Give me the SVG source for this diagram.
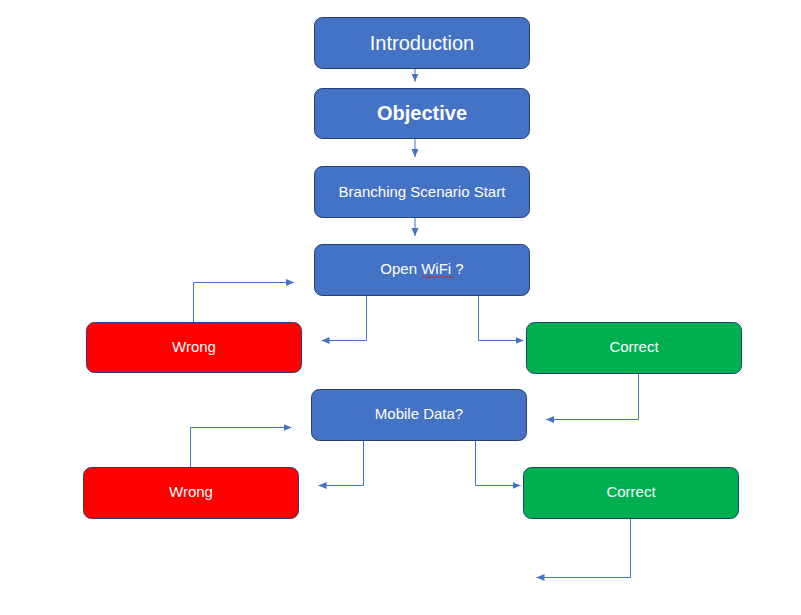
<svg xmlns="http://www.w3.org/2000/svg" width="801" height="615" viewBox="0 0 801 615">
<style>
.box{stroke:#243F70;stroke-width:1}
.blue{fill:#4472C4}
.red{fill:#FF0000}
.green{fill:#00B050}
.lbl{font-family:"Liberation Sans",Arial,sans-serif;fill:#fff;text-anchor:middle;font-size:15px}
.big{font-size:20px}
.conn{fill:none;stroke:#4472C4;stroke-width:1}
</style>
<defs>
<marker id="arr" markerUnits="userSpaceOnUse" markerWidth="9" markerHeight="8" refX="8" refY="3.5" orient="auto">
<path d="M0,0 L8,3.5 L0,7 z" fill="#4472C4"/>
</marker>
</defs>
<rect width="801" height="615" fill="#fff"/>
<g id="connectors">
<path class="conn" marker-end="url(#arr)" d="M415,68.5 V81.5"/>
<path class="conn" marker-end="url(#arr)" d="M415,138.5 V157"/>
<path class="conn" marker-end="url(#arr)" d="M415,217.5 V236"/>
<path class="conn" marker-end="url(#arr)" d="M193.5,322.5 V282.5 H294"/>
<path class="conn" marker-end="url(#arr)" d="M366.5,295.5 V340.5 H321.5"/>
<path class="conn" marker-end="url(#arr)" d="M478.5,295.5 V340.5 H523.5"/>
<path class="conn" marker-end="url(#arr)" d="M638.5,373.5 V419.5 H546"/>
<path class="conn" marker-end="url(#arr)" d="M190.5,467.5 V427.5 H291.5"/>
<path class="conn" marker-end="url(#arr)" d="M363.5,441 V485.5 H318.5"/>
<path class="conn" marker-end="url(#arr)" d="M475.5,441 V485.5 H520.5"/>
<path class="conn" marker-end="url(#arr)" d="M630.5,518.5 V577.5 H536.5"/>
</g>
<g id="introduction">
<rect class="box blue" x="314.5" y="17.5" width="215" height="51" rx="8"/>
<text class="lbl big" x="422" y="50">Introduction</text>
</g>
<g id="objective">
<rect class="box blue" x="314.5" y="88.5" width="215" height="50" rx="8"/>
<text class="lbl big" x="422" y="120" font-weight="bold" font-size="18">Objective</text>
</g>
<g id="branching">
<rect class="box blue" x="314.5" y="166.5" width="215" height="51" rx="8"/>
<text class="lbl" x="422" y="197">Branching Scenario Start</text>
</g>
<g id="openwifi">
<rect class="box blue" x="314.5" y="244.5" width="215" height="51" rx="8"/>
<text class="lbl" x="422" y="273.5">Open WiFi ?</text>
<path d="M422,277 q1,-1.5 2,0 t2,0 t2,0 t2,0 t2,0 t2,0 t2,0 t2,0 t2,0 t2,0 t2,0 t2,0 t2,0 t2,0 t2,0 t2,0" fill="none" stroke="#E0201A" stroke-width="0.8"/>
</g>
<g id="wrong1">
<rect class="box red" x="86.5" y="322.5" width="215" height="50" rx="8"/>
<text class="lbl" x="194" y="352">Wrong</text>
</g>
<g id="correct1">
<rect class="box green" x="526.5" y="322.5" width="215" height="51" rx="8"/>
<text class="lbl" x="634" y="352">Correct</text>
</g>
<g id="mobiledata">
<rect class="box blue" x="311.5" y="389.5" width="215" height="51" rx="8"/>
<text class="lbl" x="419" y="419">Mobile Data?</text>
</g>
<g id="wrong2">
<rect class="box red" x="83.5" y="467.5" width="215" height="51" rx="8"/>
<text class="lbl" x="191" y="497">Wrong</text>
</g>
<g id="correct2">
<rect class="box green" x="523.5" y="467.5" width="215" height="51" rx="8"/>
<text class="lbl" x="631" y="497">Correct</text>
</g>
</svg>
